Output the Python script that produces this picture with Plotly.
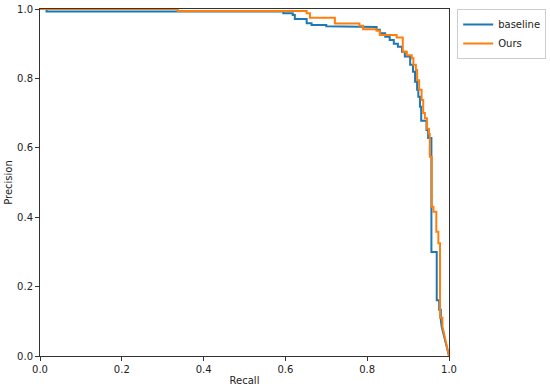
import plotly.graph_objects as go

# Baseline PR curve (corner points)
baseline_recall = [0.0, 0.016, 0.016, 0.595, 0.595, 0.618, 0.618, 0.623, 0.623, 0.652, 0.652, 0.664, 0.664,
                   0.70, 0.70, 0.76, 0.76, 0.823, 0.823, 0.831, 0.831, 0.844, 0.844, 0.855, 0.855, 0.865, 0.865,
                   0.875, 0.875, 0.885, 0.885, 0.892, 0.892, 0.905, 0.905, 0.912, 0.912, 0.917, 0.917, 0.922,
                   0.922, 0.925, 0.925, 0.929, 0.929, 0.932, 0.932, 0.945, 0.945, 0.949, 0.949, 0.957, 0.957,
                   0.970, 0.970, 0.976, 0.976, 0.980, 0.980, 0.982, 1.0]
baseline_precision = [1.0, 1.0, 0.993, 0.993, 0.988, 0.988, 0.983, 0.983, 0.971, 0.971, 0.959, 0.959, 0.954,
                      0.954, 0.950, 0.950, 0.948, 0.948, 0.940, 0.940, 0.930, 0.930, 0.920, 0.920, 0.911, 0.911,
                      0.900, 0.900, 0.891, 0.891, 0.877, 0.877, 0.863, 0.863, 0.839, 0.839, 0.819, 0.819, 0.790,
                      0.790, 0.767, 0.767, 0.747, 0.747, 0.718, 0.718, 0.678, 0.678, 0.651, 0.651, 0.628, 0.628,
                      0.300, 0.300, 0.161, 0.161, 0.133, 0.133, 0.104, 0.085, 0.0]

# Ours PR curve
ours_recall = [0.0, 0.337, 0.337, 0.652, 0.652, 0.660, 0.660, 0.721, 0.721, 0.781, 0.781, 0.790, 0.790,
               0.823, 0.823, 0.831, 0.831, 0.872, 0.872, 0.887, 0.887, 0.897, 0.897, 0.909, 0.909, 0.913,
               0.913, 0.919, 0.919, 0.922, 0.922, 0.927, 0.927, 0.933, 0.933, 0.937, 0.937, 0.941, 0.941,
               0.946, 0.946, 0.951, 0.951, 0.953, 0.953, 0.958, 0.958, 0.962, 0.962, 0.969, 0.969, 0.974,
               0.974, 0.978, 0.978, 0.984, 0.984, 1.0]
ours_precision = [1.0, 1.0, 0.994, 0.994, 0.988, 0.988, 0.975, 0.975, 0.958, 0.958, 0.952, 0.952, 0.942,
                  0.942, 0.937, 0.937, 0.925, 0.925, 0.918, 0.918, 0.877, 0.877, 0.867, 0.867, 0.858, 0.858,
                  0.839, 0.839, 0.824, 0.824, 0.795, 0.795, 0.767, 0.767, 0.738, 0.738, 0.700, 0.700, 0.685,
                  0.685, 0.655, 0.655, 0.640, 0.640, 0.574, 0.574, 0.430, 0.430, 0.416, 0.416, 0.358, 0.358,
                  0.325, 0.325, 0.110, 0.110, 0.085, 0.0]

tick_vals = [0.0, 0.2, 0.4, 0.6, 0.8, 1.0]
tick_text = ["0.0", "0.2", "0.4", "0.6", "0.8", "1.0"]

fig = go.Figure()
fig.add_trace(go.Scatter(x=baseline_recall, y=baseline_precision, mode="lines", name="baseline",
                         line=dict(color="#1f77b4", width=2)))
fig.add_trace(go.Scatter(x=ours_recall, y=ours_precision, mode="lines", name="Ours",
                         line=dict(color="#ff7f0e", width=2)))

axis_common = dict(range=[0, 1], tickvals=tick_vals, ticktext=tick_text, showgrid=False, zeroline=False,
                   showline=True, linecolor="#333333", linewidth=1, mirror=True, ticks="outside",
                   ticklen=4, tickcolor="#333333", automargin=False,
                   tickfont=dict(family="DejaVu Sans", size=10, color="#222"))

fig.update_layout(
    width=550, height=392,
    margin=dict(l=40, r=101, t=9, b=36, autoexpand=False),
    paper_bgcolor="white", plot_bgcolor="white",
    font=dict(family="DejaVu Sans", size=10, color="#222"),
    xaxis=dict(**axis_common, title=dict(text="Recall", font=dict(size=10), standoff=2)),
    yaxis=dict(**axis_common, title=dict(text="Precision", font=dict(size=10), standoff=2)),
    legend=dict(x=1.02, y=1.0, xanchor="left", yanchor="top", bordercolor="#cccccc", borderwidth=1,
                bgcolor="white", font=dict(size=10), tracegroupgap=0, itemwidth=30),
    showlegend=True,
)

fig.write_html("out.html", config={"displayModeBar": False},
               post_script="document.body.style.margin='0';")
